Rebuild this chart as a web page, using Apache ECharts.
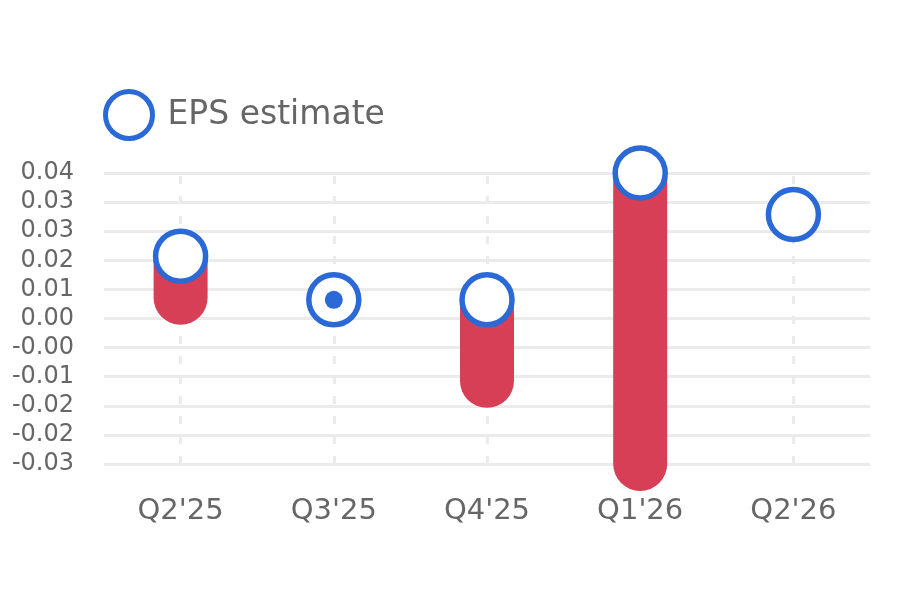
<!DOCTYPE html>
<html>
<head>
<meta charset="utf-8">
<script src="https://cdn.jsdelivr.net/npm/echarts@6/dist/echarts.min.js"></script>
<style>html,body{margin:0;padding:0;background:#fff}#c{width:900px;height:600px}</style>
</head>
<body>
<div id="c"></div>
<script>
var categories = ["Q2'25", "Q3'25", "Q4'25", "Q1'26", "Q2'26"];
var epsEstimate = [0.02, 0.0095, 0.0095, 0.04, 0.03];
var epsActual = [0.01, 0.0095, -0.01, -0.03, null];
var yTickLabels = ["-0.03", "-0.02", "-0.02", "-0.01", "-0.00", "0.00", "0.01", "0.02", "0.03", "0.03", "0.04"];

var BLUE = '#2a69d6';
var RED = '#d63f55';
var GRID = '#ebebeb';

var rangeData = categories.map(function (c, i) {
  return [i, epsEstimate[i], epsActual[i]];
});
var metData = categories.map(function (c, i) {
  return (epsActual[i] !== null && epsActual[i] === epsEstimate[i]) ? epsActual[i] : null;
});

var chart = echarts.init(document.getElementById('c'), null, {renderer: 'canvas'});
chart.setOption({
  animation: false,
  backgroundColor: '#fff',
  textStyle: {fontFamily: 'DejaVu Sans'},
  legend: {
    data: ['EPS estimate'],
    left: 98, top: 84,
    itemWidth: 47, itemHeight: 47,
    icon: 'circle',
    itemStyle: {color: '#fff', borderColor: BLUE, borderWidth: 5},
    textStyle: {fontSize: 33, color: '#666', fontFamily: 'DejaVu Sans', padding: [10, 0, 0, 10]}
  },
  grid: {left: 104, right: 30, top: 173, bottom: 136, containLabel: false},
  xAxis: {
    type: 'category',
    data: categories,
    boundaryGap: true,
    axisLine: {show: false},
    axisTick: {show: false},
    splitLine: {show: false},
    axisLabel: {fontSize: 29, color: '#666', margin: 33, fontFamily: 'DejaVu Sans'}
  },
  yAxis: {
    type: 'value',
    min: -0.03, max: 0.04, interval: 0.007,
    axisLine: {show: false},
    axisTick: {show: false},
    splitLine: {show: true, lineStyle: {color: GRID, width: 3}},
    axisLabel: {
      fontSize: 24, color: '#666', margin: 30, fontFamily: 'DejaVu Sans',
      padding: [6, 0, 0, 0],
      formatter: function (v, idx) { return yTickLabels[idx]; }
    }
  },
  series: [
    {
      type: 'line', name: 'guides', data: [], z: 1, silent: true,
      markLine: {
        z: 1,
        silent: true, symbol: ['none', 'none'],
        label: {show: false},
        lineStyle: {type: [8, 12], color: GRID, width: 3},
        data: categories.map(function (c) { return {xAxis: c}; })
      }
    },
    {
      type: 'custom', name: 'range', z: 2, silent: true,
      data: rangeData,
      renderItem: function (params, api) {
        var a = api.value(2);
        var e = api.value(1);
        if (a === null || isNaN(a) || a === e) return null;
        var p1 = api.coord([api.value(0), e]);
        var p2 = api.coord([api.value(0), a]);
        return {
          type: 'line',
          shape: {x1: p1[0], y1: p1[1], x2: p2[0], y2: p2[1]},
          style: {stroke: RED, lineWidth: 54, lineCap: 'round'}
        };
      }
    },
    {
      type: 'scatter', name: 'EPS estimate', z: 3,
      data: epsEstimate,
      symbol: 'circle', symbolSize: 50,
      itemStyle: {color: '#fff', borderColor: BLUE, borderWidth: 5.5, opacity: 1}
    },
    {
      type: 'scatter', name: 'met', z: 4,
      data: metData,
      symbol: 'circle', symbolSize: 18,
      itemStyle: {color: BLUE, opacity: 1}
    }
  ]
});
</script>
</body>
</html>
